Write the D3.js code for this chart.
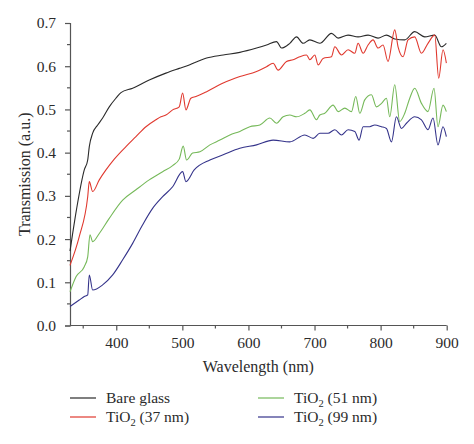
<!DOCTYPE html>
<html>
<head>
<meta charset="utf-8">
<script src="https://cdn.jsdelivr.net/npm/d3@7"></script>
<style>
  body { margin: 0; background: #fff; }
  svg { display: block; }
  text { font-family: "Liberation Serif", "DejaVu Serif", serif; fill: #2b2b2b; }
</style>
</head>
<body>
<svg id="chart" width="474" height="444"></svg>
<script>
// values (wavelength in nm, transmission in a.u.)
const bareWl = [330, 340, 351.6, 356.8, 359.2, 364.3, 371.9, 379.4, 389.4, 399.5, 407.1, 424.8, 449.9, 475.1, 495.3, 510.4, 517.9, 536.7, 561.8, 587, 612.3, 627.4, 642.5, 650.1, 662.6, 672.8, 682.7, 692.9, 708, 725.7, 735.7, 750.8, 765.9, 781, 796.1, 808.8, 821.4, 836.5, 851.6, 866.7, 881.9, 892, 899.5];
const bareT = [0.172, 0.27, 0.36, 0.383, 0.414, 0.445, 0.464, 0.48, 0.506, 0.526, 0.539, 0.549, 0.568, 0.584, 0.595, 0.603, 0.608, 0.619, 0.626, 0.632, 0.642, 0.649, 0.657, 0.642, 0.653, 0.668, 0.653, 0.661, 0.653, 0.676, 0.665, 0.672, 0.668, 0.672, 0.665, 0.672, 0.663, 0.661, 0.68, 0.668, 0.672, 0.645, 0.653];

const t37Wl = [330, 344.1, 356.8, 359.2, 364.3, 374.3, 384.4, 397, 414.7, 429.8, 444.9, 460, 467.6, 475.1, 485.3, 495.3, 500.4, 505.4, 512.9, 520.5, 536.7, 561.8, 587, 612.3, 627.4, 637.4, 644.9, 657.6, 667.6, 677.7, 687.9, 692.9, 700.4, 705.4, 713, 725.7, 730.7, 740.8, 750.8, 760.9, 765.9, 773.5, 781, 788.6, 796.1, 803.7, 811.2, 821.4, 826.4, 834, 841.5, 851.6, 861.8, 871.7, 881.9, 887.9, 894.4, 899.5];
const t37T = [0.139, 0.206, 0.298, 0.333, 0.31, 0.337, 0.36, 0.385, 0.414, 0.437, 0.46, 0.476, 0.483, 0.487, 0.499, 0.506, 0.538, 0.499, 0.526, 0.53, 0.541, 0.561, 0.576, 0.588, 0.599, 0.607, 0.591, 0.611, 0.615, 0.622, 0.626, 0.615, 0.626, 0.603, 0.618, 0.622, 0.645, 0.626, 0.638, 0.63, 0.653, 0.63, 0.649, 0.661, 0.642, 0.649, 0.611, 0.684, 0.645, 0.622, 0.661, 0.668, 0.63, 0.653, 0.672, 0.572, 0.638, 0.607];

const t51Wl = [330, 339.1, 351.6, 356.8, 360.2, 364.3, 374.3, 389.4, 409.7, 429.8, 449.9, 470.2, 485.3, 495.3, 501.3, 506.4, 515.5, 526.6, 541.7, 556.8, 571.9, 587, 602.1, 617.3, 632.4, 642.5, 652.5, 662.6, 672.8, 685.3, 692.9, 703, 708, 715.5, 728.1, 735.7, 745.8, 755.9, 762.4, 768.5, 776, 786.1, 793.7, 801.3, 808.8, 813.8, 821.4, 828.9, 836.5, 844.1, 851.6, 861.8, 871.7, 880.8, 886.8, 894.4, 899.5];
const t51T = [0.078, 0.113, 0.136, 0.159, 0.21, 0.194, 0.213, 0.248, 0.29, 0.314, 0.337, 0.356, 0.37, 0.385, 0.415, 0.383, 0.399, 0.402, 0.418, 0.429, 0.441, 0.449, 0.46, 0.464, 0.48, 0.468, 0.483, 0.487, 0.483, 0.491, 0.499, 0.476, 0.487, 0.491, 0.51, 0.495, 0.503, 0.495, 0.53, 0.491, 0.522, 0.534, 0.506, 0.514, 0.526, 0.483, 0.557, 0.472, 0.491, 0.526, 0.549, 0.514, 0.495, 0.549, 0.46, 0.51, 0.495];

const t99Wl = [330, 344, 351.6, 356.8, 359.2, 364.3, 379.4, 394.6, 409.7, 424.8, 439.9, 455, 470.2, 485.3, 500.4, 505.4, 517.9, 541.7, 561.8, 587, 612.3, 637.4, 662.6, 685.3, 697.9, 708, 720.5, 730.7, 740.8, 750.8, 760.9, 767.4, 773.5, 783.6, 791.1, 801.3, 808.8, 816.4, 823.9, 831.5, 839.1, 851.6, 861.8, 871.7, 879.3, 886.8, 894.4, 899.5];
const t99T = [0.044, 0.059, 0.067, 0.071, 0.117, 0.082, 0.094, 0.117, 0.152, 0.19, 0.233, 0.271, 0.298, 0.321, 0.356, 0.333, 0.36, 0.383, 0.395, 0.41, 0.418, 0.429, 0.425, 0.441, 0.433, 0.445, 0.445, 0.453, 0.441, 0.453, 0.449, 0.429, 0.46, 0.46, 0.464, 0.46, 0.456, 0.425, 0.483, 0.456, 0.468, 0.483, 0.476, 0.453, 0.48, 0.418, 0.46, 0.437];

const seriesNames = ["Bare glass", "TiO2 (37 nm)", "TiO2 (51 nm)", "TiO2 (99 nm)"];
const seriesColors = ["#2a2a2a", "#e0392f", "#76b95a", "#34338a"];
const xTicks = [400, 500, 600, 700, 800, 900];
const yTicks = [0, 0.1, 0.2, 0.3, 0.4, 0.5, 0.6, 0.7];

const series = [
  {name: seriesNames[0], color: seriesColors[0], pts: d3.zip(bareWl, bareT)},
  {name: seriesNames[1], color: seriesColors[1], pts: d3.zip(t37Wl, t37T)},
  {name: seriesNames[2], color: seriesColors[2], pts: d3.zip(t51Wl, t51T)},
  {name: seriesNames[3], color: seriesColors[3], pts: d3.zip(t99Wl, t99T)}
];

const svg = d3.select("#chart");
const x = d3.scaleLinear().domain([330, 900]).range([70, 446.7]);
const y = d3.scaleLinear().domain([0, 0.7]).range([325.5, 23]);

// axes
const xAxis = svg.append("g").attr("transform", `translate(0,${y(0)})`);
xAxis.call(d3.axisBottom(x).tickValues(xTicks).tickSizeOuter(0).tickSize(5).tickPadding(6));
xAxis.append("g").selectAll("line")
  .data(d3.range(350, 900, 100)).join("line")
  .attr("x1", d => x(d)).attr("x2", d => x(d))
  .attr("y1", 0).attr("y2", 3);
// extend the axis line to the origin
xAxis.select(".domain").attr("d", `M${x(330)},0H${x(900)}`);

const yAxis = svg.append("g").attr("transform", `translate(${x(330)},0)`);
yAxis.call(d3.axisLeft(y).tickValues(yTicks).tickFormat(d3.format(".1f")).tickSizeOuter(0).tickSize(5).tickPadding(9));
yAxis.append("g").selectAll("line")
  .data(d3.range(0.05, 0.7, 0.1)).join("line")
  .attr("x1", 0).attr("x2", -3)
  .attr("y1", d => y(d)).attr("y2", d => y(d));

svg.selectAll(".domain, .tick line, g > g > line")
  .attr("stroke", "#555").attr("stroke-width", 1.2);
svg.selectAll(".tick text").attr("font-size", 15.5)
  .attr("font-family", "Liberation Serif, serif").attr("fill", "#2b2b2b");

svg.append("text")
  .attr("x", (x(330) + x(900)) / 2).attr("y", 372)
  .attr("text-anchor", "middle").attr("font-size", 16)
  .text("Wavelength (nm)");

svg.append("text")
  .attr("transform", `translate(30,${(y(0) + y(0.7)) / 2}) rotate(-90)`)
  .attr("text-anchor", "middle").attr("font-size", 16)
  .text("Transmission (a.u.)");

// curves
const line = d3.line()
  .x(d => x(d[0])).y(d => y(d[1]))
  .curve(d3.curveMonotoneX);

svg.append("g").selectAll("path")
  .data(series).join("path")
  .attr("fill", "none")
  .attr("stroke", d => d.color)
  .attr("stroke-width", 1.1)
  .attr("stroke-linejoin", "round")
  .attr("d", d => line(d.pts));

// legend: two columns
const legendPos = [[70, 398], [70, 417], [258, 398], [258, 417]];
const legend = svg.append("g").selectAll("g")
  .data(series).join("g")
  .attr("transform", (d, i) => `translate(${legendPos[i][0]},${legendPos[i][1]})`);

legend.append("line")
  .attr("x1", 0).attr("x2", 26)
  .attr("stroke", d => d.color).attr("stroke-width", 1.2);

legend.append("text")
  .attr("x", 36).attr("dy", "0.35em").attr("font-size", 15.5)
  .each(function(d) {
    const t = d3.select(this);
    if (d.name.startsWith("TiO2")) {
      t.append("tspan").text("TiO");
      t.append("tspan").attr("font-size", 10.5).attr("dy", 4).text("2");
      t.append("tspan").attr("dy", -4).text(d.name.slice(4));
    } else {
      t.text(d.name);
    }
  });
</script>
</body>
</html>
